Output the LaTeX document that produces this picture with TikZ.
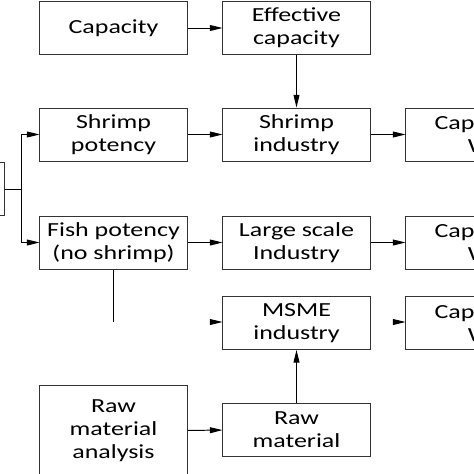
\documentclass[tikz,border=0pt]{standalone}
\usepackage{fontspec}
\setmainfont{Carlito}[FakeStretch=1.3]
\usetikzlibrary{arrows.meta}

\begin{document}
\begin{tikzpicture}[x=0.025cm, y=-0.025cm,
  fbox/.style={draw=black!80, line width=0.7pt, minimum width=3.675cm,
               minimum height=1.325cm, align=center, inner sep=0pt,
               font=\fontsize{14.2}{16.3}\selectfont},
  arr/.style={-{Triangle[length=9pt, width=4.2pt]}, line width=0.7pt},
  ln/.style={line width=0.7pt},
]

%% ---- Frame (picture is cut on all sides)
\useasboundingbox (0,0) rectangle (474,474);
\clip (0,0) rectangle (474,474);

%% ---- Column spacing
\def\ca{113.5} % potency / analysis
\def\cb{296.5} % industry
\def\cc{479.5} % capacity (cut off)

%% ---- Row heights (top to bottom)
\def\rA{28}    % capacity
\def\rB{134.5} % shrimp
\def\rC{242.5} % fish
\def\rD{323}   % MSME
\def\rE{429.5} % raw material

%% ======== ROW 1 — Capacity ========
\node[fbox] (cap) at (\ca,\rA) {Capacity};
\node[fbox] (eff) at (\cb,\rA) {Effective\\capacity};
\draw[arr] (cap) -- (eff);

%% ======== ROW 2 — Shrimp ========
\node[fbox] (shp)   at (\ca,\rB) {Shrimp\\potency};
\node[fbox] (shi)   at (\cb,\rB) {Shrimp\\industry};
\node[fbox] (capw1) at (\cc,\rB) {Capacity\\W};
\draw[arr] (eff) -- (shi);
\draw[arr] (shp) -- (shi);
\draw[arr] (shi) -- (capw1);

%% ======== ROW 3 — Fish ========
\node[fbox] (fsh)   at (\ca,\rC) {Fish potency\\(no shrimp)};
\node[fbox] (lsi)   at (\cb,\rC) {Large scale\\Industry};
\node[fbox] (capw2) at (\cc,\rC) {Capacity\\W};
\draw[arr] (fsh) -- (lsi);
\draw[arr] (lsi) -- (capw2);

%% ---- Source box on the left, split to both potencies
\node[fbox] (src) at (-69.5,189) {};
\draw[ln]  (src.east) -- ++(17,0) coordinate (split);
\draw[arr] (split) |- (shp.west);
\draw[arr] (split) |- (fsh.west);

%% ======== ROW 4 — MSME ========
\node[fbox] (msme)  at (\cb,\rD) {MSME\\industry};
\node[fbox] (capw3) at (\cc,\rD) {Capacity\\W};
\coordinate (fend) at (\ca,322);
\coordinate (msin) at (210,322);
\coordinate (cwin) at (393,322);
\draw[ln]  (fsh.south) -- (fend);
\draw[arr] (msin) -- (msin -| msme.west);
\draw[arr] (cwin) -- (cwin -| capw3.west);

%% ======== ROW 5 — Raw material ========
\node[fbox, minimum height=2.3cm] (rma) at (\ca,431) {Raw\\material\\analysis};
\node[fbox] (raw) at (\cb,\rE) {Raw\\material};
\draw[arr] (rma) -- (raw);
\draw[arr] (raw) -- (msme);

\end{tikzpicture}
\end{document}
